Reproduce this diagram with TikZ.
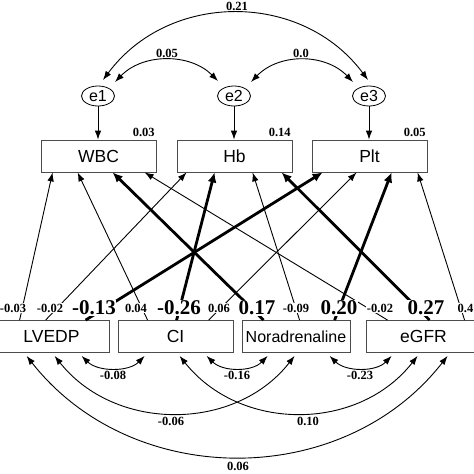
\documentclass[tikz,border=0pt]{standalone}
\usepackage{fontspec}
\setmainfont{Liberation Serif}
\setsansfont{Liberation Sans}
\usetikzlibrary{arrows.meta,shapes.geometric}

\tikzset{
    var/.style={draw=black!70, line width=0.8pt, minimum width=115pt, minimum height=32pt, inner sep=0pt, font=\sffamily\fontsize{17.5}{17.5}\selectfont},
    err/.style={draw, ellipse, line width=0.8pt, minimum width=33pt, minimum height=20pt, inner sep=0pt, font=\sffamily\fontsize{16}{16}\selectfont},
    coef/.style={fill=white, inner sep=0.5pt, font=\bfseries\fontsize{12.5}{12.5}\selectfont},
    bigcoef/.style={fill=white, inner sep=0.5pt, font=\bfseries\fontsize{21}{21}\selectfont},
    thinarr/.style={line width=0.9pt, -{Latex[length=9pt,width=6.5pt]}},
    thickarr/.style={line width=2.8pt, -{Latex[length=10pt,width=9pt]}},
    cov/.style={line width=0.9pt, {Latex[length=9pt,width=6.5pt]}-{Latex[length=9pt,width=6.5pt]}}
}

\begin{document}
\begin{tikzpicture}[x=1pt,y=-1pt]
    \useasboundingbox (0,0) rectangle (474,474);

    % errors and outcomes
    \node[err] (e1) at (98,96) {e1};
    \node[err] (e2) at (234,96) {e2};
    \node[err] (e3) at (369,96) {e3};
    \node[var] (wbc) at (98.5,156) {WBC};
    \node[var] (hb) at (234.5,156) {Hb};
    \node[var] (plt) at (369.5,156) {Plt};
    \foreach \e/\v/\r in {e1/wbc/0.03, e2/hb/0.14, e3/plt/0.05} {
        \draw[thinarr] (\e) -- (\e |- \v.north);
        \node[coef, fill=none, anchor=base east] (r\v) at ([xshift=-1pt,yshift=3pt]\v.north east) {\r};
    }

    % predictors
    \node[var] (lvedp) at (51.5,336.5) {LVEDP};
    \node[var] (ci) at (175.5,336.5) {CI};
    \node[var, minimum width=108pt, font=\sffamily\fontsize{16}{16}\selectfont] (nor) at (296,336.5) {Noradrenaline};
    \node[var] (egfr) at (423.5,336.5) {eGFR};

    % paths
    \foreach \s/\a/\t/\b/\w in {
        lvedp/26/wbc/12/thinarr, lvedp/52/hb/10/thinarr, lvedp/92/plt/11/thickarr,
        ci/30/wbc/37/thinarr, ci/59/hb/38/thickarr, ci/91/plt/45/thinarr,
        nor/22/wbc/72/thickarr, nor/58/hb/76/thinarr, nor/93/plt/80/thickarr,
        egfr/22/wbc/104/thinarr, egfr/64/hb/105/thickarr, egfr/99/plt/106/thinarr} {
        \draw[\w] ([xshift=\a pt]\s.north west) -- ([xshift=\b pt]\t.south west);
    }
    \foreach \c/\x/\st [count=\i] in {
        -0.03/13/coef, -0.02/50/coef, -0.13/94/bigcoef,
        0.04/136/coef, -0.26/179/bigcoef, 0.06/219/coef,
        0.17/257/bigcoef, -0.09/296/coef, 0.20/339/bigcoef,
        -0.02/380/coef, 0.27/426/bigcoef} {
        \node[\st] (p\i) at (\x,308) {\c};
    }
    \node[coef, anchor=west] (p12) at (457,308) {0.4};

    % covariances
    \draw[cov] ([shift={(5,-16)}]e1.center) .. controls (169,-9) and (302,-9) .. ([shift={(-1,-16)}]e3.center);
    \draw[cov] ([shift={(17,-14)}]e1.center) .. controls (143,53) and (190,53) .. ([shift={(-16,-15)}]e2.center);
    \draw[cov] ([shift={(17,-14)}]e2.center) .. controls (279,53) and (325,53) .. ([shift={(-16,-14)}]e3.center);
    \node[coef] (c1) at (237,6) {0.21};
    \node[coef] (c2) at (167,53) {0.05};
    \node[coef] (c3) at (301,53) {0.0};

    \draw[cov] ([shift={(88,3)}]lvedp.south west) .. controls (98,372) and (129,372) .. ([shift={(27,3)}]ci.south west);
    \draw[cov] ([shift={(89,3)}]ci.south west) .. controls (223,372) and (252,372) .. ([shift={(26,3)}]nor.south west);
    \draw[cov] ([shift={(88,3)}]nor.south west) .. controls (346,372) and (376,372) .. ([shift={(26,3)}]egfr.south west);
    \draw[cov] ([shift={(61,3)}]lvedp.south west) .. controls (115,432) and (235,432) .. ([shift={(53,3)}]nor.south west);
    \draw[cov] ([shift={(62,3)}]ci.south west) .. controls (240,432) and (358,432) .. ([shift={(52,3)}]egfr.south west);
    \draw[cov] ([shift={(33,3)}]lvedp.south west) .. controls (132,490) and (343,490) .. ([shift={(82,3)}]egfr.south west);
    \node[coef] (c4) at (113,375) {-0.08};
    \node[coef] (c5) at (237,375) {-0.16};
    \node[coef] (c6) at (360,375) {-0.23};
    \node[coef] (c7) at (171,421) {-0.06};
    \node[coef] (c8) at (308,421) {0.10};
    \node[coef] (c9) at (238,466) {0.06};
\end{tikzpicture}
\end{document}
